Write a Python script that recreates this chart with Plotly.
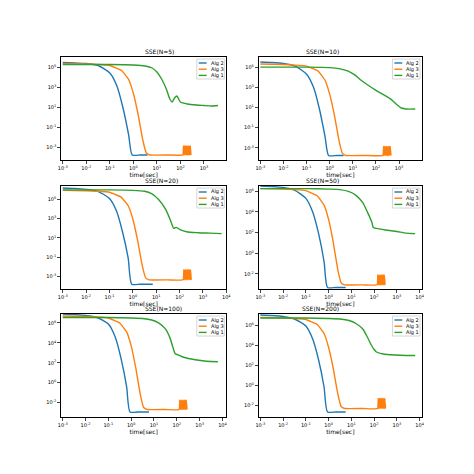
import plotly.graph_objects as go

titles = ["SSE(N=5)", "SSE(N=10)", "SSE(N=20)", "SSE(N=50)", "SSE(N=100)", "SSE(N=200)"]
names = ["Alg 2", "Alg 3", "Alg 1"]
colors = ["#1f77b4", "#ff7f0e", "#2ca02c"]

# ---- Alg 2: log10(time) and log10(SSE) per panel
a2_lt = [-3, -2.5, -2, -1.5, -1.0, -0.7, -0.45, -0.2, -0.05, 0.3, 0.6]
a2_ly = {
    0: [5.45, 5.4, 5.35, 5.15, 4.4, 3.1, 1.0, -1.8, -3.8, -3.8, -3.8],
    1: [5.5, 5.45, 5.35, 5.1, 4.3, 3.0, 0.9, -1.9, -3.75, -3.75, -3.75],
    2: [6.2, 6.15, 6.05, 5.85, 5.1, 3.8, 1.7, -1.1, -3.8, -3.8, -3.8],
    3: [6.5, 6.45, 6.35, 6.1, 5.3, 4.0, 2.0, -0.8, -3.3, -3.3, -3.3],
    4: [6.9, 6.85, 6.75, 6.55, 5.9, 4.6, 2.5, -0.4, -2.95, -2.95, -2.95],
    5: [7.0, 6.95, 6.85, 6.6, 5.9, 4.6, 2.6, -0.2, -2.7, -2.7, -2.7],
}
a2_end = [0.5, 0.5, 0.85, 0.75, 0.78, 0.75]

# ---- Alg 3
a3_lt = [-3, -2, -1.5, -1.0, -0.5, -0.2, 0.0, 0.2, 0.4, 0.55, 0.7, 1.5, 2.1,
         2.13, 2.15, 2.18, 2.2, 2.23, 2.25, 2.28, 2.3, 2.33, 2.35, 2.38, 2.4, 2.42, 2.45]
a3_top = [5.35, 5.3, 5.95, 6.25, 6.7, 6.75]
a3_floor = [-3.8, -3.75, -3.35, -3.05, -2.7, -2.35]
a3_bump = [-2.9, -2.85, -2.3, -2.1, -1.75, -1.35]
a3_bump_start = [2.1, 2.3, 2.15, 2.13, 2.1, 2.15]

# ---- Alg 1
a1_lt = {
    0: [-3, -1, 0, 0.5, 0.8, 1.0, 1.2, 1.4, 1.55, 1.65, 1.75, 1.85, 2.0, 2.3, 2.7, 3.0, 3.3, 3.6],
    1: [-3, -1, 0, 0.4, 0.8, 1.1, 1.3, 1.6, 2.0, 2.3, 2.6, 2.9, 3.1, 3.3, 3.7],
    2: [-3, -1, 0, 0.5, 0.8, 1.1, 1.4, 1.6, 1.75, 1.85, 2.0, 2.3, 2.8, 3.3, 3.8],
    3: [-3, -1, 0, 0.5, 0.9, 1.2, 1.5, 1.7, 1.9, 1.96, 2.1, 2.5, 3.0, 3.4, 3.8],
    4: [-3, -1, 0, 0.5, 0.9, 1.2, 1.5, 1.7, 1.85, 1.93, 2.05, 2.3, 2.8, 3.3, 3.8],
    5: [-3, -1, 0, 0.5, 0.9, 1.2, 1.5, 1.7, 1.9, 2.0, 2.1, 2.4, 2.9, 3.4, 3.8],
}
a1_ly = {
    0: [5.25, 5.25, 5.2, 5.1, 4.9, 4.5, 3.8, 2.8, 1.8, 1.5, 1.9, 2.1, 1.5, 1.3, 1.2, 1.15, 1.1, 1.15],
    1: [5.0, 5.0, 4.95, 4.85, 4.6, 4.2, 3.8, 3.3, 2.7, 2.3, 1.9, 1.3, 0.95, 0.85, 0.85],
    2: [6.0, 6.0, 5.95, 5.85, 5.6, 5.0, 4.0, 2.9, 2.0, 2.1, 1.9, 1.65, 1.55, 1.5, 1.45],
    3: [6.25, 6.25, 6.2, 6.15, 5.95, 5.6, 4.9, 4.0, 3.0, 2.5, 2.4, 2.25, 2.1, 1.95, 1.9],
    4: [6.55, 6.55, 6.5, 6.45, 6.3, 6.0, 5.4, 4.5, 3.4, 2.9, 2.8, 2.55, 2.3, 2.15, 2.1],
    5: [6.7, 6.7, 6.65, 6.6, 6.45, 6.15, 5.6, 4.8, 3.9, 3.55, 3.3, 3.1, 3.0, 2.95, 2.95],
}

xrange_ = [[-3.07, 3.95], [-3.07, 3.99], [-3.07, 4.0], [-3.07, 4.1], [-3.07, 4.17], [-3.07, 4.1]]
yrange_ = [[-4.3, 6.0], [-4.2, 6.0], [-4.3, 6.4], [-3.45, 6.5], [-3.45, 6.9], [-3.2, 7.1]]
xticks = [[-3, -2, -1, 0, 1, 2, 3], [-3, -2, -1, 0, 1, 2, 3],
          [-3, -2, -1, 0, 1, 2, 3, 4], [-3, -2, -1, 0, 1, 2, 3, 4],
          [-3, -2, -1, 0, 1, 2, 3, 4], [-3, -2, -1, 0, 1, 2, 3, 4]]
yticks = [[-3, -1, 1, 3, 5], [-3, -1, 1, 3, 5], [-3, -1, 1, 3, 5],
          [-2, 0, 2, 4, 6], [-2, 0, 2, 4, 6], [-2, 0, 2, 4, 6]]

fig = go.Figure()
W = 474.0
cols = [(51, 219), (252, 418)]
rows = [(49, 152), (178, 281), (306, 409)]

for i in range(6):
    r, c = divmod(i, 2)
    k = "" if i == 0 else str(i + 1)
    xa, ya = "x" + k, "y" + k
    # Alg 2 series
    t2 = a2_lt + [a2_end[i]]
    y2 = a2_ly[i] + [a2_ly[i][-1]]
    # Alg 3 series
    top, fl, bp = a3_top[i], a3_floor[i], a3_bump[i]
    head = [top, top - 0.05, top - 0.1, top - 0.2, top - 0.7, top - 1.6, top - 3.0,
            (top + fl) / 2 - 0.5, fl + 1.5, fl + 0.2, fl, fl, fl]
    zig = [bp, fl, bp, fl, bp, fl, bp, fl, bp, fl, bp, fl, bp, fl]
    t3 = [v + (a3_bump_start[i] - 2.1) if n >= 12 else v for n, v in enumerate(a3_lt)]
    y3 = head + zig
    ts = [t2, t3, a1_lt[i]]
    ys = [y2, y3, a1_ly[i]]
    for s in range(3):
        fig.add_trace(go.Scatter(x=[10 ** v for v in ts[s]], y=[10 ** v for v in ys[s]],
                                 mode="lines", line=dict(color=colors[s], width=1.4, shape="spline",
                                                         smoothing=0.6 if s != 1 else 0.3),
                                 name=names[s], xaxis=xa, yaxis=ya, showlegend=False))
    x0, x1 = cols[c]
    y0, y1 = rows[r]
    xt, yt = xticks[i], yticks[i]
    ax = dict(type="log", range=xrange_[i], domain=[x0 / W, x1 / W],
              tickvals=[10 ** v for v in xt], ticktext=["10<sup>%d</sup>" % v for v in xt],
              ticks="outside", ticklen=3, showgrid=False, zeroline=False, showline=True,
              linecolor="black", linewidth=0.8, mirror=True, anchor=ya,
              title=dict(text="time[sec]", font=dict(size=6), standoff=0),
              tickfont=dict(size=5))
    ay = dict(type="log", range=yrange_[i], domain=[1 - y1 / W, 1 - y0 / W],
              tickvals=[10 ** v for v in yt], ticktext=["10<sup>%d</sup>" % v for v in yt],
              ticks="outside", ticklen=3, showgrid=False, zeroline=False, showline=True,
              linecolor="black", linewidth=0.8, mirror=True, anchor=xa, tickfont=dict(size=5))
    fig.layout["xaxis" + k] = ax
    fig.layout["yaxis" + k] = ay
    # legend box
    lx0, lx1 = x1 - 30, x1 - 2
    ly0 = y0 + 2
    fig.add_shape(type="rect", xref="paper", yref="paper", x0=lx0 / W, x1=lx1 / W,
                  y0=1 - ly0 / W, y1=1 - (ly0 + 20) / W, line=dict(color="#cccccc", width=0.8),
                  fillcolor="white", layer="above")
    for s in range(3):
        yy = 1 - (ly0 + 4 + 6.2 * s) / W
        fig.add_shape(type="line", xref="paper", yref="paper", x0=(lx0 + 2) / W,
                      x1=(lx0 + 10) / W, y0=yy, y1=yy, line=dict(color=colors[s], width=1.4),
                      layer="above")
        fig.add_annotation(text=names[s], x=(lx0 + 12) / W, y=yy, xref="paper", yref="paper",
                           xanchor="left", yanchor="middle", showarrow=False,
                           font=dict(size=5))
    fig.add_annotation(text=titles[i], x=(x0 + x1) / 2 / W, y=1 - (y0 - 1) / W, xref="paper",
                       yref="paper", yanchor="bottom", showarrow=False, font=dict(size=6),
                       borderpad=0)

fig.update_layout(width=474, height=474, margin=dict(l=0, r=0, t=0, b=0),
                  plot_bgcolor="white", paper_bgcolor="white",
                  font=dict(family="DejaVu Sans", color="black"))
fig.write_html("out.html")
